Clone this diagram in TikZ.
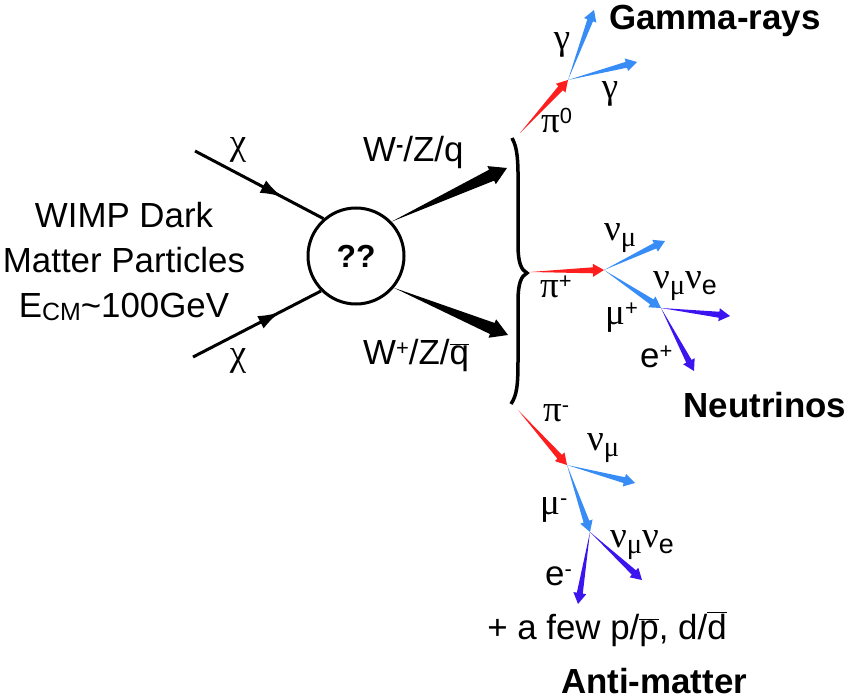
\documentclass[tikz,border=0pt]{standalone}
\usepackage{fontspec}
\setmainfont{Liberation Sans}
\newfontfamily\grk{Liberation Serif}[Scale=1.06]
\usepackage{tikz}
\usetikzlibrary{arrows.meta,calc,decorations.markings}

\definecolor{pired}{RGB}{255,30,30}
\definecolor{nublue}{RGB}{55,140,245}
\definecolor{lepblue}{RGB}{60,20,240}

\newcommand\subx[1]{\raisebox{-6bp}{\fontsize{27}{27}\selectfont #1}}
\newcommand\supx[1]{\raisebox{9bp}{\fontsize{22}{22}\selectfont #1}}
% colour, from, to, half shaft, half head, head length
\newcommand\wedgearrow[6]{%
  \fill[#1] (#2)
    -- ($(#3)!#6!(#2)!#4!90:(#3)$) -- ($(#3)!#6!(#2)!#5!90:(#3)$)
    -- (#3)
    -- ($(#3)!#6!(#2)!#5!-90:(#3)$) -- ($(#3)!#6!(#2)!#4!-90:(#3)$)
    -- cycle;}
\newcommand\ptcl[3]{\wedgearrow{#1}{#2}{#3}{3bp}{6.5bp}{11bp}}

\begin{document}
\begin{tikzpicture}[x=1bp, y=-1bp,
    every node/.style={inner sep=0pt, font=\fontsize{35}{45}\selectfont},
    lbl/.style={anchor=base west},
    title/.style={anchor=base, font=\fontsize{35}{45}\selectfont\bfseries},
    chi/.style={line width=3bp, decoration={markings,
      mark=at position 0.68 with {\arrow{Latex[length=22bp,width=14bp]}}},
      postaction=decorate}]
  \useasboundingbox (0,0) rectangle (850,699);

  \node[anchor=base] (wimp1) at (124,227) {WIMP Dark};
  \node[anchor=base] (wimp2) at (124,272) {Matter Particles};
  \node[anchor=base] (wimp3) at (124,317)
    {E\raisebox{-3bp}{\fontsize{25}{25}\selectfont CM}\textasciitilde100GeV};

  \node[draw, circle, line width=3bp, minimum size=96bp,
    font=\fontsize{32}{32}\selectfont\bfseries] (ann) at (356,256) {??};

  \coordinate (chi1) at (195,151);
  \coordinate (chi2) at (193,357);
  \draw[chi] (chi1) -- (ann.131);
  \draw[chi] (chi2) -- (ann.225);
  \node[anchor=base] (chil1) at (238,155) {\grk χ};
  \node[anchor=base] (chil2) at (238,365) {\grk χ};

  \coordinate (wm) at (507,168);
  \coordinate (wp) at (508,335);
  \wedgearrow{black}{ann.44}{wm}{6bp}{10bp}{17bp}
  \wedgearrow{black}{ann.320}{wp}{6bp}{10bp}{17bp}
  \node[lbl] (wml) at (363,162) {W\supx{\bfseries -}/Z/q};
  \node[lbl] (wpl) at (363,364) {W\supx{+}/Z/$\overline{\mbox{q}}$};

  \coordinate (btop) at (512,138);
  \coordinate (bmid) at (527,273);
  \coordinate (bbot) at (511,404);
  \draw[line width=3.5bp] (btop) .. controls (519,150) and (518,170) .. (518,195)
    -- (518,245) .. controls (518,262) and (521,270) .. (bmid)
    .. controls (521,276) and (518,284) .. (518,301)
    -- (518,360) .. controls (518,385) and (517,395) .. (bbot);

  % gamma-rays
  \coordinate (pi0s) at (520,133);
  \coordinate (gv) at (568,80);
  \coordinate (g1) at (594,10);
  \coordinate (g2) at (637,62);
  \ptcl{pired}{pi0s}{gv}
  \ptcl{nublue}{gv}{g1}
  \ptcl{nublue}{gv}{g2}
  \node[anchor=base] (gl1) at (562,50) {\grk γ};
  \node[anchor=base] (gl2) at (610,99) {\grk γ};
  \node[lbl] (pi0l) at (541,133) {{\grk π}\supx{0}};
  \node[title] (gam) at (715,30) {Gamma-rays};

  % neutrinos
  \coordinate (pips) at (530,272);
  \coordinate (nv1) at (604,270);
  \coordinate (nm1) at (665,241);
  \coordinate (nv2) at (661,308);
  \coordinate (nmne1) at (730,316);
  \coordinate (ep) at (694,371);
  \ptcl{pired}{pips}{nv1}
  \ptcl{nublue}{nv1}{nm1}
  \ptcl{nublue}{nv1}{nv2}
  \ptcl{lepblue}{nv2}{nmne1}
  \ptcl{lepblue}{nv2}{ep}
  \node[lbl] (nml1) at (604,240) {{\grk ν}\subx{\grk μ}};
  \node[lbl] (pipl) at (540,297) {{\grk π}\supx{+}};
  \node[lbl] (nnl1) at (653,288) {{\grk ν}\subx{\grk μ}{\grk ν}\subx{e}};
  \node[lbl] (mupl) at (605,324) {{\grk μ}\supx{+}};
  \node[lbl] (epl) at (640,367) {e\supx{+}};
  \node[title] (neu) at (765,417) {Neutrinos};

  % anti-matter
  \coordinate (pims) at (518,410);
  \coordinate (av1) at (567,465);
  \coordinate (nm2) at (635,483);
  \coordinate (av2) at (590,532);
  \coordinate (em) at (578,604);
  \coordinate (nmne2) at (642,580);
  \ptcl{pired}{pims}{av1}
  \ptcl{nublue}{av1}{nm2}
  \ptcl{nublue}{av1}{av2}
  \ptcl{lepblue}{av2}{em}
  \ptcl{lepblue}{av2}{nmne2}
  \node[lbl] (piml) at (543,421) {{\grk π}\supx{-}};
  \node[lbl] (nml2) at (587,450) {{\grk ν}\subx{\grk μ}};
  \node[lbl] (muml) at (540,514) {{\grk μ}\supx{-}};
  \node[lbl] (nnl2) at (610,547) {{\grk ν}\subx{\grk μ}{\grk ν}\subx{e}};
  \node[lbl] (eml) at (545,585) {e\supx{-}};
  \node[anchor=base] (few) at (607,639)
    {+ a few p/$\overline{\mbox{p}}$, d/$\overline{\mbox{d}}$};
  \node[title] (anti) at (654,693) {Anti-matter};
\end{tikzpicture}
\end{document}
